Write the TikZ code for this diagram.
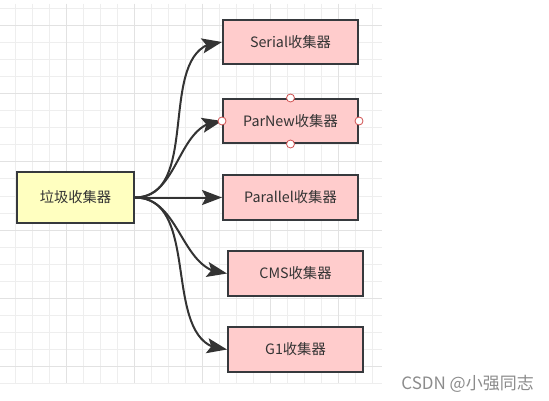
\documentclass[tikz,border=0pt]{standalone}
\usepackage{fontspec}
\setmainfont{Noto Sans CJK SC}
\newfontfamily\cjkfont{Noto Sans CJK SC}
\usetikzlibrary{arrows.meta,bending}
\definecolor{gridminor}{HTML}{EEEEEE}
\definecolor{gridmajor}{HTML}{E2E2E2}
\definecolor{boxline}{HTML}{36393D}
\definecolor{pinkfill}{HTML}{FFCCCC}
\definecolor{yellowfill}{HTML}{FFFFC0}
\definecolor{txt}{HTML}{333333}
\definecolor{handle}{HTML}{D05050}
\definecolor{wm}{HTML}{8C8C8C}
\tikzset{
  gcbox/.style={draw=boxline, line width=2pt, fill=pinkfill, minimum width=135pt, minimum height=44pt, inner sep=0pt, font=\cjkfont\fontsize{14.3}{16}\selectfont, text=txt},
  rootbox/.style={gcbox, fill=yellowfill, minimum width=117pt, minimum height=51pt},
  conn/.style={draw=txt, line width=2pt, -{Stealth[length=20pt,width=15pt,inset=4pt]}, out=0, in=180},
  hdl/.style={circle, draw=handle, fill=white, line width=0.8pt, minimum size=8pt, inner sep=0pt},
}
\begin{document}
\begin{tikzpicture}[x=1pt,y=-1pt]
\useasboundingbox (0,0) rectangle (549,401);
\fill[white] (0,0) rectangle (549,401);
% grid
\foreach \i in {0,...,21} {
  \pgfmathsetmacro{\gx}{15+17*\i}
  \draw[gridminor, line width=1pt] (\gx,4) -- (\gx,383);
}
\foreach \i in {0,...,22} {
  \pgfmathsetmacro{\gy}{9+17*\i}
  \draw[gridminor, line width=1pt] (0,\gy) -- (382,\gy);
}
\foreach \gx in {66,134,202,270,338} {
  \draw[gridmajor, line width=1pt] (\gx,4) -- (\gx,383);
}
\foreach \gy in {26,94,162,230,298,366} {
  \draw[gridmajor, line width=1pt] (0,\gy) -- (382,\gy);
}
% nodes
\node[rootbox] (root) at (75.5,197.5) {垃圾收集器};
\node[gcbox] (serial) at (290.5,42) {Serial收集器};
\node[gcbox] (parnew) at (290.5,121) {ParNew收集器};
\node[gcbox, minimum height=45pt] (parallel) at (290.5,197.5) {Parallel收集器};
\node[gcbox, minimum height=45pt] (cms) at (295.5,273.5) {CMS收集器};
\node[gcbox, minimum height=45pt] (g1) at (295.5,349.5) {G1收集器};
% connectors
\draw[conn] (root.east) to (serial.west);
\draw[conn] (root.east) to (parnew.west);
\draw[conn] (root.east) to (parallel.west);
\draw[conn] (root.east) to (cms.west);
\draw[conn] (root.east) to (g1.west);
% selection handles
\node[hdl] (h1) at (parnew.north) {};
\node[hdl] (h2) at (parnew.south) {};
\node[hdl] (h3) at (parnew.west) {};
\node[hdl] (h4) at (parnew.east) {};
% watermark
\node[anchor=east, text=wm, font=\cjkfont\fontsize{17}{19}\selectfont, inner sep=0pt] (wmark) at (534,384) {CSDN @小强同志};
\end{tikzpicture}
\end{document}
